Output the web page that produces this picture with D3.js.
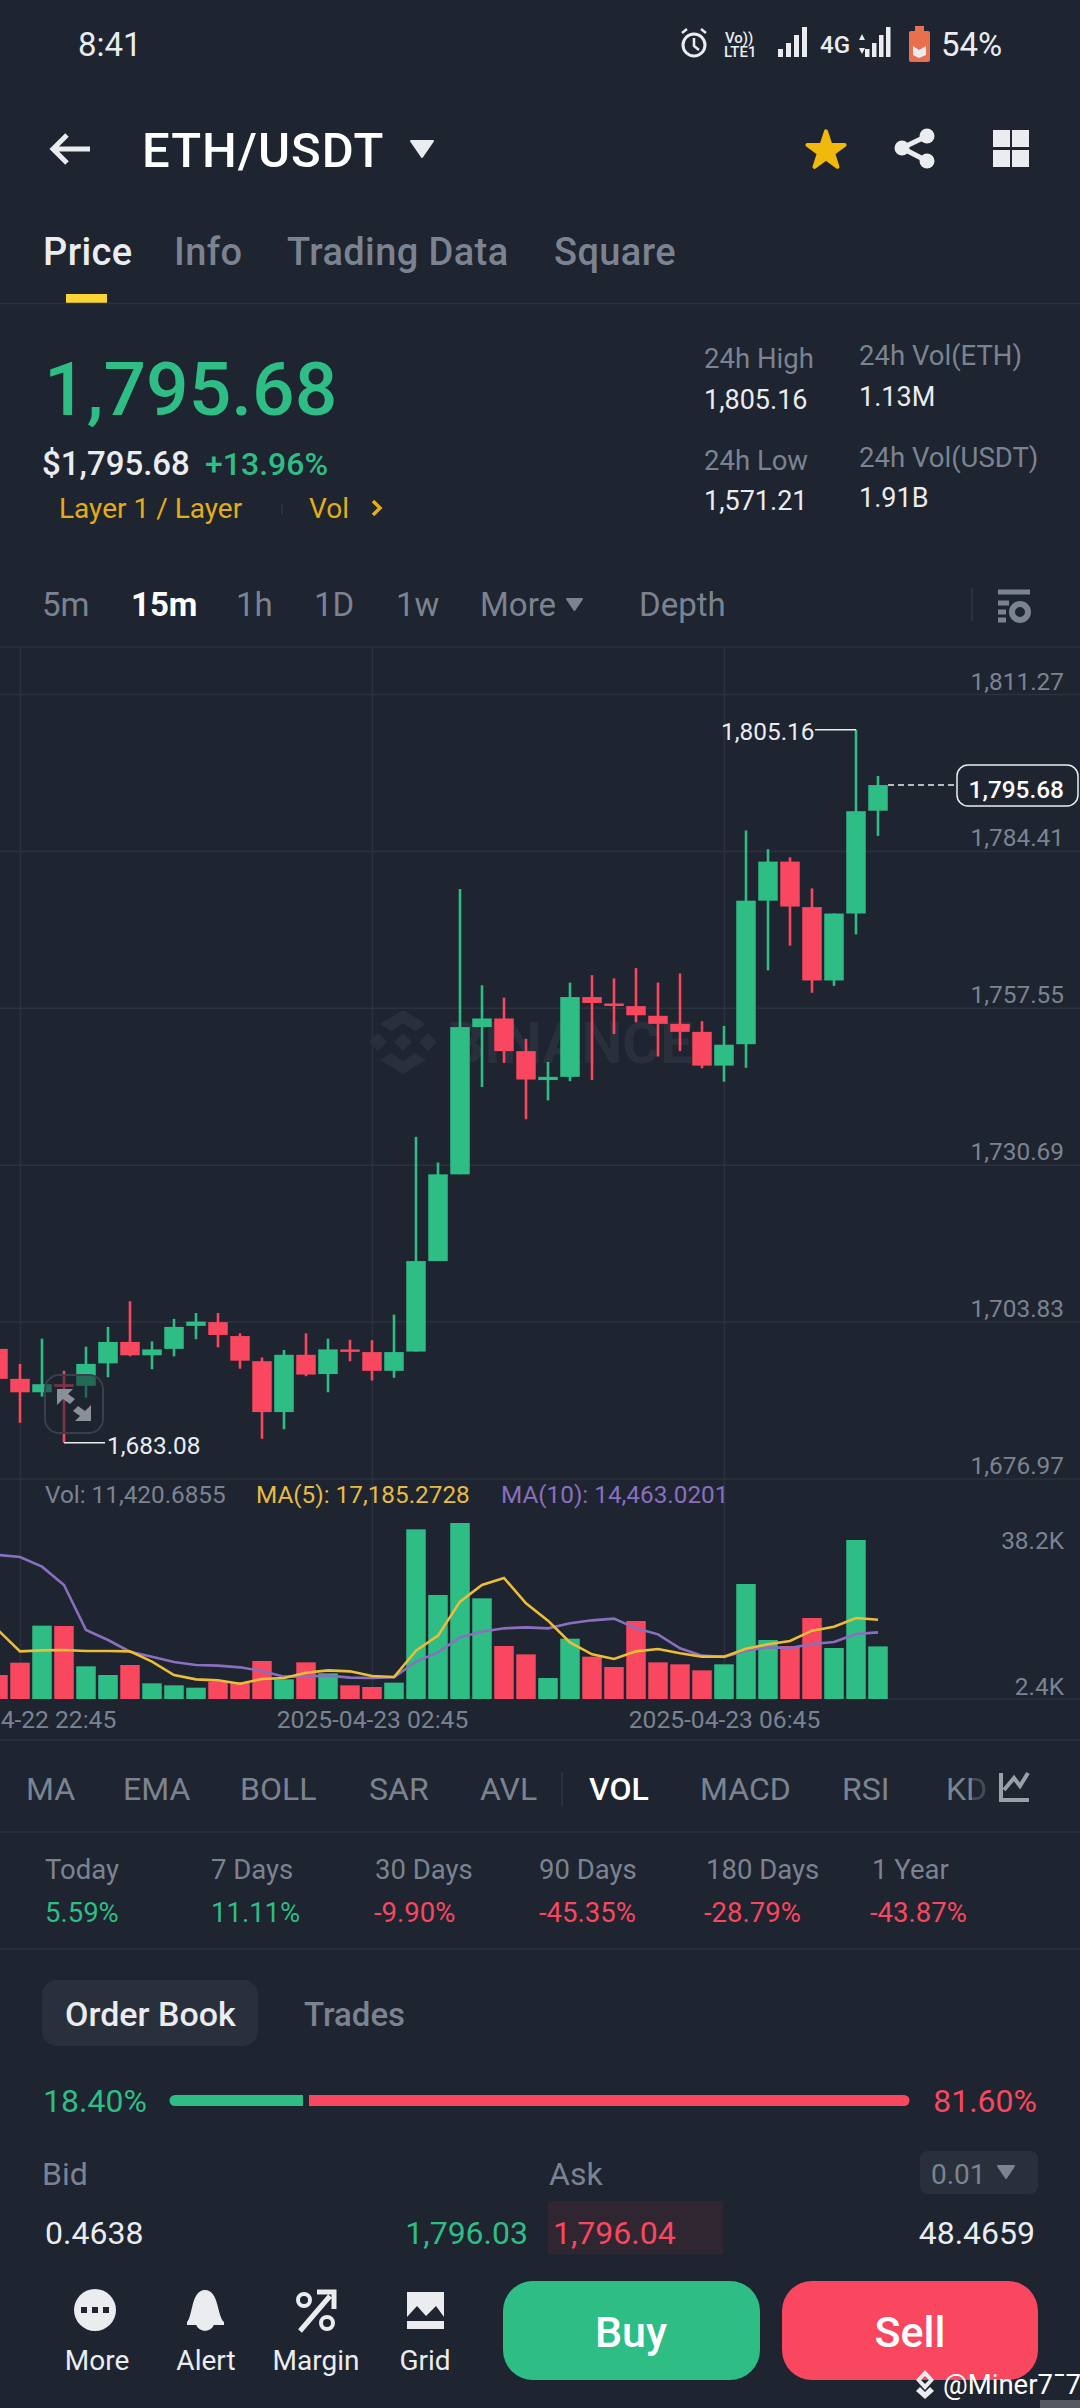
<!DOCTYPE html>
<html>
<head>
<meta charset="utf-8">
<script src="https://cdn.jsdelivr.net/npm/d3@7/dist/d3.min.js"></script>
<style>
  html, body { margin: 0; padding: 0; background: #1e2430; }
  svg { display: block; }
  text { font-family: Roboto, sans-serif; }
</style>
</head>
<body>
<div id="chart"></div>
<script>
// candles, oldest first, one every 15 minutes
var opens = [1699.16,1694.03,1691.73,1693.11,1692.83,1696.68,1700.35,1698.06,1699.16,1703.10,1703.74,1701.36,1697.05,1688.34,1698.15,1694.85,1699.07,1698.61,1695.40,1698.70,1714.19,1729.04,1754.25,1755.72,1750.13,1745.18,1745.73,1759.39,1758.29,1757.83,1756.18,1754.80,1753.43,1747.65,1751.32,1775.89,1782.58,1774.79,1762.23,1773.69,1791.29];
var highs = [1701.00,1696.59,1700.90,1695.40,1699.53,1702.92,1707.32,1700.44,1704.29,1705.30,1705.30,1701.82,1697.69,1698.98,1701.82,1700.90,1700.72,1700.63,1705.03,1735.46,1731.06,1777.90,1761.40,1759.29,1752.24,1748.29,1761.86,1763.14,1762.59,1764.34,1761.86,1763.42,1755.26,1754.44,1787.90,1784.69,1783.31,1777.99,1773.69,1805.16,1797.25];
var lows = [1693.00,1686.51,1691.00,1683.08,1690.82,1694.30,1697.90,1695.68,1697.88,1700.81,1699.43,1695.77,1683.76,1685.41,1694.48,1691.73,1697.05,1693.75,1694.21,1698.70,1714.19,1729.04,1743.99,1748.11,1738.48,1741.69,1744.99,1745.18,1753.06,1755.08,1749.21,1750.13,1747.19,1744.90,1747.28,1763.97,1768.19,1760.12,1761.31,1770.11,1786.98];
var closes = [1694.03,1691.73,1693.11,1692.83,1696.59,1700.35,1698.06,1699.07,1702.92,1703.83,1701.54,1697.14,1688.34,1698.15,1694.76,1699.07,1698.70,1695.40,1698.61,1714.19,1729.04,1754.25,1755.72,1750.13,1745.27,1745.73,1759.39,1758.38,1757.92,1756.27,1754.80,1753.43,1747.65,1751.23,1775.89,1782.58,1774.88,1762.23,1773.69,1791.20,1795.68];
var volumes = [5210,7886,15917,15845,7090,5210,7380,3400,2966,2460,3762,3618,8248,4269,7958,5571,2966,2605,3545,36826,22573,38200,21850,11503,9695,4558,13095,9188,6946,16930,7958,7524,6222,7524,24960,12806,11503,17581,11070,34511,11420.69];
var ma5 = [14976,10346,10563,10635,10418,10418,10346,8103,5209,4269,4052,3328,4341,4558,5716,6222,6005,4992,4775,10491,13747,21126,24744,26263,20764,17002,12300,9695,8682,10346,10853,9912,9188,9188,10925,11865,12589,14832,15700,17581,17185.27];
var ma10 = [31255,30821,28723,24744,14976,12806,10274,9188,8031,7380,7235,6873,6077,4847,4920,5065,4630,4558,4703,8103,10129,13385,14615,15338,15555,15338,16423,17075,17436,15338,14036,10997,9406,9116,10491,11214,11070,11938,12372,14108,14463.02];

var priceTicks = [1811.27, 1784.41, 1757.55, 1730.69, 1703.83, 1676.97];
var volumeTicks = ["38.2K", "2.4K"];
var timeTicks = ["2025-04-22 22:45", "2025-04-23 02:45", "2025-04-23 06:45"];

var tabs = ["Price", "Info", "Trading Data", "Square"];
var intervals = ["5m", "15m", "1h", "1D", "1w", "More", "Depth"];
var indicators = ["MA", "EMA", "BOLL", "SAR", "AVL", "VOL", "MACD", "RSI", "KD"];
var periods = ["Today", "7 Days", "30 Days", "90 Days", "180 Days", "1 Year"];
var periodChanges = ["5.59%", "11.11%", "-9.90%", "-45.35%", "-28.79%", "-43.87%"];
var bookShares = [18.40, 81.60];
var dock = ["More", "Alert", "Margin", "Grid"];

var green = "#2ebd85", red = "#f8475f", yellow = "#f0b90b", bg = "#1e2430";
var white = "#eaecef", grey = "#7c8390", line = "#2c323d";
var lastPrice = closes[closes.length - 1];

var svg = d3.select("#chart").append("svg").attr("width", 1080).attr("height", 2408);
svg.append("rect").attr("width", 1080).attr("height", 2408).attr("fill", bg);

function label(x, y, str, size, fill, weight, anchor) {
    return svg.append("text")
        .attr("x", x)
        .attr("y", y)
        .attr("font-size", size)
        .attr("font-weight", weight || 400)
        .attr("text-anchor", anchor || "start")
        .attr("fill", fill)
        .text(str);
}

function rule(y) {
    svg.append("line").attr("x1", 0).attr("x2", 1080).attr("y1", y).attr("y2", y)
        .attr("stroke", line).attr("stroke-width", 1.5);
}

function tri(x0, x1, y0, y1, fill) {
    svg.append("path")
        .attr("d", "M" + x0 + " " + y0 + "H" + x1 + "L" + ((x0 + x1) / 2) + " " + y1 + "Z")
        .attr("fill", fill)
        .attr("stroke", fill)
        .attr("stroke-width", 2)
        .attr("stroke-linejoin", "round");
}

// status bar
label(78, 56, "8:41", 33, white);
svg.append("circle").attr("cx", 694).attr("cy", 45).attr("r", 11).attr("fill", "none").attr("stroke", white).attr("stroke-width", 3);
svg.append("path").attr("d", "M694 38V46L699 50M682 33L687 29M706 33L701 29").attr("fill", "none").attr("stroke", white).attr("stroke-width", 2.5);
label(725, 43, "Vo))", 15, white, 500);
label(724, 57, "LTE1", 15, white, 500);
[8, 14, 22, 30].forEach(function (h, i) {
    svg.append("rect").attr("x", 778 + i * 8).attr("y", 57 - h).attr("width", 5).attr("height", h).attr("fill", white);
    svg.append("rect").attr("x", 865 + i * 7).attr("y", 57 - h).attr("width", 4.5).attr("height", h).attr("fill", white);
});
label(820, 53, "4G", 24, white, 500);
svg.append("path").attr("d", "M859 40L862 34L865 40ZM859 48L862 54L865 48Z").attr("fill", white);
svg.append("rect").attr("x", 909).attr("y", 31).attr("width", 21).attr("height", 31).attr("rx", 2).attr("fill", "#e8704f");
svg.append("rect").attr("x", 915).attr("y", 26).attr("width", 9).attr("height", 5).attr("fill", "#e8704f");
svg.append("path").attr("d", "M913 46L919 50L926 46V55L919 58L913 55Z").attr("fill", white);
label(941, 56, "54%", 33, white);

// header
svg.append("path").attr("d", "M90 149H54M67 135L53 149L67 163").attr("fill", "none").attr("stroke", white).attr("stroke-width", 5);
label(142, 167, "ETH/USDT", 49, "#fff", 500).attr("letter-spacing", 1);
tri(411, 433, 141, 157, white);
svg.append("path").attr("d", d3.symbol().type(d3.symbolStar).size(430)).attr("transform", "translate(826,151)")
    .attr("fill", yellow).attr("stroke", yellow).attr("stroke-width", 4).attr("stroke-linejoin", "round");
svg.append("path").attr("d", "M927 136L902 148L927 161").attr("fill", "none").attr("stroke", white).attr("stroke-width", 5);
[[927, 136], [902, 148], [927, 161]].forEach(function (c) {
    svg.append("circle").attr("cx", c[0]).attr("cy", c[1]).attr("r", 7.5).attr("fill", white);
});
[[993, 130], [1012, 130], [993, 150], [1012, 150]].forEach(function (c) {
    svg.append("rect").attr("x", c[0]).attr("y", c[1]).attr("width", 17).attr("height", 17).attr("fill", white);
});

var tabX = [43, 174, 287, 554];
tabs.forEach(function (t, i) {
    label(tabX[i], 265, t, 38, i === 0 ? white : grey, 500).attr("letter-spacing", 0.4);
});
svg.append("rect").attr("x", 66).attr("y", 294).attr("width", 41).attr("height", 9).attr("fill", "#fcd535");
rule(303.5);

// price block
label(44, 415, "1,795.68", 75, green, 500);
label(42, 475, "$1,795.68", 33, white, 500);
label(205, 475, "+13.96%", 32, green, 500);
label(59, 518, "Layer 1 / Layer", 28, "#e3ad1a");
svg.append("line").attr("x1", 282).attr("x2", 282).attr("y1", 504).attr("y2", 514).attr("stroke", line).attr("stroke-width", 2);
label(309, 518, "Vol", 28, "#e3ad1a");
svg.append("path").attr("d", "M373 501L380 508L373 515").attr("fill", "none").attr("stroke", "#e3ad1a").attr("stroke-width", 3.5);

label(704, 368, "24h High", 27.5, grey);
label(704, 409, "1,805.16", 27, white);
label(859, 365, "24h Vol(ETH)", 27.5, grey);
label(859, 406, "1.13M", 27, white);
label(704, 470, "24h Low", 27.5, grey);
label(704, 510, "1,571.21", 27, white);
label(859, 467, "24h Vol(USDT)", 27.5, grey);
label(859, 507, "1.91B", 27, white);

// interval row
var intervalX = [42, 131, 236, 314, 396, 480, 639];
intervals.forEach(function (t, i) {
    label(intervalX[i], 616, t, 33, i === 1 ? "#fff" : grey, i === 1 ? 700 : 400);
});
tri(567, 582, 599, 610, grey);
svg.append("line").attr("x1", 972).attr("x2", 972).attr("y1", 588).attr("y2", 621).attr("stroke", line).attr("stroke-width", 2);
svg.append("path").attr("d", "M998 592H1030M998 603H1009M998 612H1006M998 620H1006").attr("stroke", grey).attr("stroke-width", 5).attr("fill", "none");
svg.append("circle").attr("cx", 1020).attr("cy", 612).attr("r", 8).attr("fill", "none").attr("stroke", grey).attr("stroke-width", 6);
rule(647);

// scales
var yPrice = d3.scaleLinear().domain([1676.97, 1811.27]).range([1478.5, 694]);
var yVolume = d3.scaleLinear().domain([0, 38200]).range([1699, 1523]);
var parseTime = d3.utcParse("%Y-%m-%d %H:%M");
var formatTime = d3.utcFormat("%Y-%m-%d %H:%M");
var t0 = parseTime("2025-04-22 22:30");
var times = d3.range(opens.length).map(function (i) { return d3.utcMinute.offset(t0, i * 15); });
var x = d3.scaleUtc().domain([times[0], times[times.length - 1]]).range([-2, 878]);

var bodyWidth = 19.5;

// grid and axes
var xAxis = d3.axisBottom(x)
    .tickValues(timeTicks.map(parseTime))
    .tickSize(-(1699 - 647))
    .tickFormat(formatTime);
var xGroup = svg.append("g").attr("transform", "translate(0,1699)").call(xAxis);
xGroup.select(".domain").remove();
xGroup.selectAll("line").attr("stroke", line).attr("stroke-width", 1.5);
xGroup.selectAll("text").attr("y", 29).attr("dy", 0).attr("font-size", 24.6).attr("fill", grey).attr("font-family", "Roboto, sans-serif");

var yAxis = d3.axisRight(yPrice)
    .tickValues(priceTicks)
    .tickSize(1080)
    .tickFormat(d3.format(",.2f"));
var yGroup = svg.append("g").call(yAxis);
yGroup.select(".domain").remove();
yGroup.selectAll("line").attr("stroke", line).attr("stroke-width", 1.5);
yGroup.selectAll("text").attr("x", 1064).attr("y", -5).attr("dy", 0).attr("text-anchor", "end")
    .attr("font-size", 24.4).attr("fill", grey).attr("font-family", "Roboto, sans-serif");

var volumeLabels = d3.scalePoint().domain(volumeTicks).range([1548, 1694]);
var vGroup = svg.append("g").call(d3.axisRight(volumeLabels).tickSize(0));
vGroup.select(".domain").remove();
vGroup.selectAll("text").attr("x", 1064).attr("dy", 0).attr("text-anchor", "end")
    .attr("font-size", 24.4).attr("fill", grey).attr("font-family", "Roboto, sans-serif");

svg.append("line").attr("x1", x(times[times.length - 1])).attr("x2", 1080).attr("y1", 1699).attr("y2", 1699)
    .attr("stroke", line).attr("stroke-width", 1.5);
rule(1740);

// watermark
var mark = svg.append("g").attr("fill", "#2a303b");
mark.selectAll("path")
    .data(["M403 1010L426 1024L415 1031L403 1023L391 1031L380 1024Z",
           "M403 1074L426 1060L415 1053L403 1061L391 1053L380 1060Z",
           "M403 1033L412 1042L403 1051L394 1042Z",
           "M378 1033L387 1042L378 1051L369 1042Z",
           "M428 1033L437 1042L428 1051L419 1042Z"])
    .enter().append("path").attr("d", function (d) { return d; });
label(447, 1063, "BINANCE", 58, "#2a303b", 700);

// volume
svg.append("g").selectAll("rect")
    .data(volumes)
    .enter().append("rect")
    .attr("x", function (d, i) { return x(times[i]) - bodyWidth / 2; })
    .attr("y", function (d) { return yVolume(d); })
    .attr("width", bodyWidth)
    .attr("height", function (d) { return yVolume(0) - yVolume(d); })
    .attr("fill", function (d, i) { return closes[i] >= opens[i] ? green : red; });

var maLine = d3.line()
    .x(function (d, i) { return x(times[i]); })
    .y(function (d) { return yVolume(d); });
svg.append("path").attr("d", maLine(ma10)).attr("fill", "none").attr("stroke", "#8b6fbf").attr("stroke-width", 2.6);
svg.append("path").attr("d", maLine(ma5)).attr("fill", "none").attr("stroke", "#ecbd37").attr("stroke-width", 2.6);

label(45, 1503, "Vol: 11,420.6855", 24.3, grey);
label(256, 1503, "MA(5): 17,185.2728", 24.3, "#e6bc45");
label(501, 1503, "MA(10): 14,463.0201", 24.3, "#8b6fbf");

// candles
var candles = svg.append("g").selectAll("g")
    .data(d3.range(opens.length))
    .enter().append("g")
    .attr("fill", function (i) { return closes[i] >= opens[i] ? green : red; })
    .attr("stroke", function (i) { return closes[i] >= opens[i] ? green : red; });
candles.append("line")
    .attr("x1", function (i) { return x(times[i]); })
    .attr("x2", function (i) { return x(times[i]); })
    .attr("y1", function (i) { return yPrice(highs[i]); })
    .attr("y2", function (i) { return yPrice(lows[i]); })
    .attr("stroke-width", 2.6);
candles.append("rect")
    .attr("stroke", "none")
    .attr("x", function (i) { return x(times[i]) - bodyWidth / 2; })
    .attr("y", function (i) { return yPrice(Math.max(opens[i], closes[i])); })
    .attr("width", bodyWidth)
    .attr("height", function (i) { return Math.max(2.5, Math.abs(yPrice(opens[i]) - yPrice(closes[i]))); });

// high, low and last price callouts
var hi = d3.max(highs), lo = d3.min(lows);
var hiX = x(times[highs.indexOf(hi)]), loX = x(times[lows.indexOf(lo)]);
svg.append("line").attr("x1", 815).attr("x2", hiX).attr("y1", yPrice(hi)).attr("y2", yPrice(hi)).attr("stroke", white).attr("stroke-width", 1.5);
label(721, yPrice(hi) + 10, d3.format(",.2f")(hi), 24.4, white);
svg.append("line").attr("x1", loX).attr("x2", 105).attr("y1", yPrice(lo)).attr("y2", yPrice(lo)).attr("stroke", white).attr("stroke-width", 1.5);
label(107, yPrice(lo) + 11, d3.format(",.2f")(lo), 24.4, white);

svg.append("line").attr("x1", 888).attr("x2", 957).attr("y1", yPrice(lastPrice)).attr("y2", yPrice(lastPrice))
    .attr("stroke", white).attr("stroke-width", 1.5).attr("stroke-dasharray", "6,4");
svg.append("rect").attr("x", 957).attr("y", 765).attr("width", 121).attr("height", 41).attr("rx", 11)
    .attr("fill", bg).attr("stroke", white).attr("stroke-width", 1.5);
label(1064, 798, d3.format(",.2f")(lastPrice), 24.4, "#fff", 500, "end");

// expand button over the chart
svg.append("rect").attr("x", 45).attr("y", 1375).attr("width", 58).attr("height", 58).attr("rx", 14)
    .attr("fill", bg).attr("fill-opacity", 0.55).attr("stroke", "#393f4b").attr("stroke-width", 2);
svg.append("path").attr("d", "M57 1389H73L68 1394L75 1399L70 1404L63 1399L57 1405Z").attr("fill", "#8a8f99");
svg.append("path").attr("d", "M91 1421H75L80 1416L73 1411L78 1406L85 1411L91 1405Z").attr("fill", "#8a8f99");

// indicator row
var indicatorX = [26, 123, 240, 369, 480, 589, 700, 842, 946];
indicators.forEach(function (t, i) {
    label(indicatorX[i], 1800, t, 32, i === 5 ? "#fff" : grey, i === 5 ? 500 : 400);
});
svg.append("line").attr("x1", 562).attr("x2", 562).attr("y1", 1772).attr("y2", 1806).attr("stroke", line).attr("stroke-width", 2);
svg.append("rect").attr("x", 972).attr("y", 1765).attr("width", 24).attr("height", 45).attr("fill", bg).attr("fill-opacity", 0.6);
svg.append("path").attr("d", "M1001 1773V1800H1029M1004 1790L1014 1778L1020 1786L1028 1773").attr("fill", "none").attr("stroke", "#9aa0aa").attr("stroke-width", 4);
rule(1832);

// period returns
var periodX = [45, 211, 375, 539, 706, 872];
var changeX = [45, 211, 374, 539, 704, 870];
periods.forEach(function (t, i) {
    label(periodX[i], 1879, t, 27.5, grey);
    label(changeX[i], 1922, periodChanges[i], 27.5, periodChanges[i].charAt(0) === "-" ? red : green);
});
rule(1949);

// order book
svg.append("rect").attr("x", 42).attr("y", 1980).attr("width", 216).attr("height", 66).attr("rx", 15).attr("fill", "#2a303b");
label(65, 2026, "Order Book", 34, white, 500);
label(304, 2026, "Trades", 33, grey, 500);

var xBook = d3.scaleLinear().domain([0, 100]).range([170, 909]);
var bookBar = 2100.5;
label(43, 2112, d3.format(".2f")(bookShares[0]) + "%", 32, green);
label(1037, 2112, d3.format(".2f")(bookShares[1]) + "%", 32, red, 400, "end");
svg.append("line").attr("x1", xBook(0) + 5).attr("x2", xBook(bookShares[0]) - 3).attr("y1", bookBar).attr("y2", bookBar)
    .attr("stroke", green).attr("stroke-width", 11);
svg.append("line").attr("x1", xBook(bookShares[0]) + 3).attr("x2", xBook(100) - 5).attr("y1", bookBar).attr("y2", bookBar)
    .attr("stroke", red).attr("stroke-width", 11);
svg.append("circle").attr("cx", xBook(0) + 5).attr("cy", bookBar).attr("r", 5.5).attr("fill", green);
svg.append("circle").attr("cx", xBook(100) - 5).attr("cy", bookBar).attr("r", 5.5).attr("fill", red);

label(42, 2185, "Bid", 32, grey);
label(549, 2185, "Ask", 32, grey);
svg.append("rect").attr("x", 920).attr("y", 2151).attr("width", 118).attr("height", 43).attr("rx", 8).attr("fill", "#2a303b");
label(931, 2184, "0.01", 28, grey);
tri(998, 1014, 2166, 2178, grey);

svg.append("rect").attr("x", 548).attr("y", 2201).attr("width", 175).attr("height", 53).attr("fill", "#2f2631");
label(45, 2244, "0.4638", 32, white);
label(528, 2244, "1,796.03", 32, green, 400, "end");
label(553, 2244, "1,796.04", 32, red);
label(1035, 2244, "48.4659", 32, white, 400, "end");

// bottom dock
var dockX = [97, 206, 316, 425];
dock.forEach(function (t, i) {
    label(dockX[i], 2370, t, 28, white, 400, "middle");
});
svg.append("circle").attr("cx", 95).attr("cy", 2310).attr("r", 21).attr("fill", white);
[84, 95, 106].forEach(function (cx) {
    svg.append("rect").attr("x", cx - 3).attr("y", 2307).attr("width", 6).attr("height", 6).attr("fill", bg);
});
svg.append("path").attr("d", "M187 2322C193 2316 191 2290 205 2290C219 2290 217 2316 224 2322V2325H187Z").attr("fill", white);
svg.append("path").attr("d", "M196 2324H214C212 2333 198 2333 196 2324Z").attr("fill", white);
svg.append("path").attr("d", "M300 2331L330 2296M317 2292H334V2309").attr("fill", "none").attr("stroke", white).attr("stroke-width", 5);
svg.append("circle").attr("cx", 304).attr("cy", 2300).attr("r", 6).attr("fill", "none").attr("stroke", white).attr("stroke-width", 4);
svg.append("circle").attr("cx", 327).attr("cy", 2323).attr("r", 6).attr("fill", "none").attr("stroke", white).attr("stroke-width", 4);
svg.append("path").attr("d", "M407 2292H444V2317L436 2306L426 2316L417 2306L407 2317Z").attr("fill", white);
svg.append("rect").attr("x", 407).attr("y", 2321).attr("width", 37).attr("height", 8).attr("fill", white);

svg.append("rect").attr("x", 503).attr("y", 2281).attr("width", 257).attr("height", 99).attr("rx", 30).attr("fill", green);
label(631, 2347, "Buy", 43, "#fff", 500, "middle");
svg.append("rect").attr("x", 782).attr("y", 2281).attr("width", 256).attr("height", 99).attr("rx", 30).attr("fill", red);
label(910, 2347, "Sell", 43, "#fff", 500, "middle");

// credit in the corner
svg.append("path").attr("d", "M925 2370L934 2380L925 2390L916 2380ZM925 2376L921 2380L925 2384L929 2380Z").attr("fill", white).attr("fill-rule", "evenodd");
svg.append("path").attr("d", "M925 2392L930 2387L934 2391L925 2399L916 2391L920 2387Z").attr("fill", white);
label(943, 2394, "@Miner7\u00af7", 27.5, "#fff");
svg.append("rect").attr("x", 1040).attr("y", 2400).attr("width", 40).attr("height", 8).attr("fill", "#555a62");
</script>
</body>
</html>
